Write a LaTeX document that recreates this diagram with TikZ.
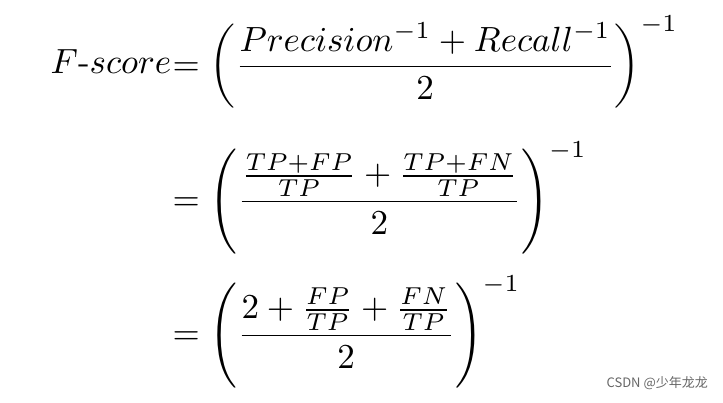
\documentclass[tikz,border=0pt]{standalone}
\usepackage{amsmath}
\usepackage{fontspec}
\newfontfamily\cjk{Noto Sans CJK SC}
\usetikzlibrary{positioning}
\tikzset{
    eqn/.style={inner sep=0pt, scale=3.5},
    stamp/.style={inner sep=0pt, font=\cjk\fontsize{13}{15}\selectfont, text=black!60}
}
\begin{document}
\begin{tikzpicture}[x=1pt, y=-1pt]
    \useasboundingbox (0,0) rectangle (723,402);
    % Rows
    \node[eqn, anchor=east] (Lhs) at (172,62) {$F\text{-}score$};
    \node[eqn, anchor=west] (RowA) at (172,62) {$=\left(\dfrac{Precision^{-1}+Recall^{-1}}{2}\right)^{-1}$};
    \node[eqn, anchor=west] (RowB) at (172,198) {$=\left(\dfrac{\frac{TP+FP}{TP}+\frac{TP+FN}{TP}}{2}\right)^{-1}$};
    \node[eqn, anchor=west] (RowC) at (172,332) {$=\left(\dfrac{2+\frac{FP}{TP}+\frac{FN}{TP}}{2}\right)^{-1}$};
    % Watermark
    \node[stamp, anchor=east] (Stamp) at (708,383) {CSDN @少年龙龙};
\end{tikzpicture}
\end{document}
